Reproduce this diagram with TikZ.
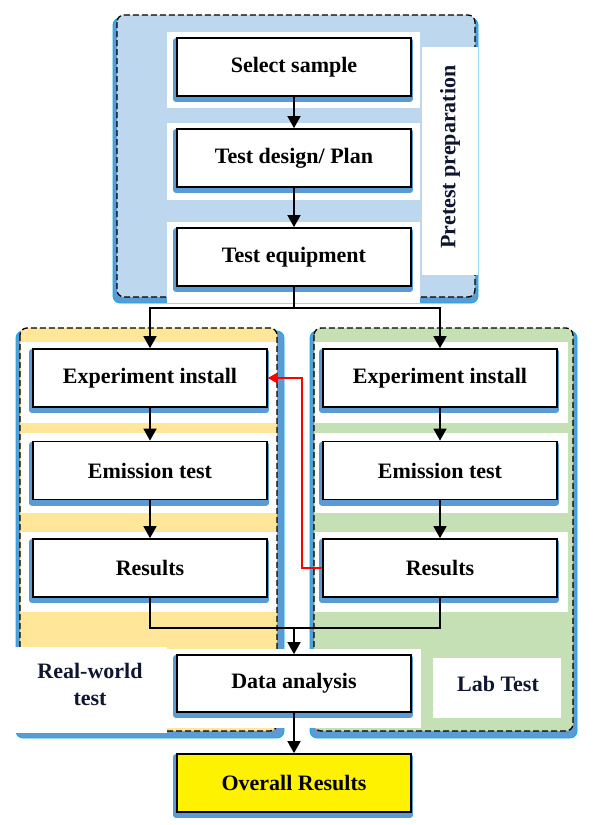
\documentclass[tikz,border=0pt]{standalone}
\usepackage{fontspec}
\setmainfont{Liberation Serif}
\usetikzlibrary{arrows.meta}
\definecolor{prebg}{RGB}{189,215,238}
\definecolor{orabg}{RGB}{255,230,153}
\definecolor{grnbg}{RGB}{197,224,180}
\definecolor{shblue}{RGB}{91,155,213}
\definecolor{shedge}{RGB}{0,176,240}
\definecolor{lbltext}{RGB}{15,22,50}
\begin{document}
\begin{tikzpicture}[x=1pt,y=-1pt,
  box/.style={draw=black, line width=1.7pt, fill=white, minimum width=234pt, minimum height=58pt,
    inner sep=0pt, font=\fontsize{22}{24}\selectfont\bfseries,
    preaction={draw=shblue, fill=shblue, line width=6pt, line join=round, transform canvas={xshift=-1pt, yshift=-3pt}}},
  arr/.style={line width=1.5pt, -{Triangle[width=13pt,length=12pt]}},
  ln/.style={line width=1.5pt},
  redarr/.style={draw=red, line width=1.2pt, -{Triangle[width=11pt,length=10pt]}},
  region/.style={draw=black, line width=1.3pt, dash pattern=on 6pt off 3pt, rounded corners=7pt},
  regshadow/.style={fill=shblue, draw=shedge, line width=0.8pt, rounded corners=7pt},
  whitebg/.style={fill=white, draw=none},
  lbl/.style={font=\fontsize{22}{27}\selectfont\bfseries, text=lbltext, align=center, inner sep=0pt}
]
\useasboundingbox (0,0) rectangle (596,825);
\fill[white] (0,0) rectangle (596,825);

% region shadows
\path[regshadow] (113,18) rectangle (478,303);
\path[regshadow] (16,331) rectangle (284,738);
\path[regshadow] (310,331) rectangle (577,738);

% region fills
\fill[prebg, rounded corners=7pt] (117,15) rectangle (475,297);
\fill[orabg, rounded corners=7pt] (20,328) rectangle (277,731);
\fill[grnbg, rounded corners=7pt] (314,328) rectangle (573,731);

% white strips
\path[whitebg] (167,32) rectangle (420,108);
\path[whitebg] (167,123) rectangle (420,200);
\path[whitebg] (167,222) rectangle (420,302);
\path[whitebg] (21,342) rectangle (277,423);
\path[whitebg] (21,433) rectangle (277,513);
\path[whitebg] (21,532) rectangle (277,612);
\path[whitebg] (315,342) rectangle (568,423);
\path[whitebg] (315,433) rectangle (568,513);
\path[whitebg] (315,532) rectangle (568,612);

% region borders
\draw[region] (117,15) rectangle (475,297);
\draw[region] (20,328) rectangle (277,731);
\draw[region] (314,328) rectangle (573,731);

% label backdrops
\path[whitebg] (167,292) rectangle (420,303);
\path[whitebg] (422,47) rectangle (478,275);
\path[whitebg] (15,647) rectangle (167,733);
\path[whitebg] (167,649) rectangle (421,728);
\path[whitebg] (433,658) rectangle (561,718);

% labels
\node[lbl, rotate=90] (lpre) at (450,157) {Pretest preparation};
\node[lbl] (lreal) at (90,684) {Real-world\\test};
\node[lbl] (llab) at (498,684) {Lab Test};

% boxes
\node[box] (sel) at (294,67) {Select sample};
\node[box] (des) at (294,158) {Test design/ Plan};
\node[box] (equip) at (294,257) {Test equipment};
\node[box] (lexp) at (150,378) {Experiment install};
\node[box] (lemi) at (150,470.5) {Emission test};
\node[box] (lres) at (150,568) {Results};
\node[box] (rexp) at (440,378) {Experiment install};
\node[box] (remi) at (440,470.5) {Emission test};
\node[box] (rres) at (440,568) {Results};
\node[box, minimum height=57pt] (data) at (294,683.5) {Data analysis};
\node[box, fill=yellow] (overall) at (294,783) {Overall Results};

% connectors
\coordinate (split) at (294,308);
\coordinate (join) at (294,628);
\coordinate (redturn) at (302,568);
\draw[arr] (sel) -- (des);
\draw[arr] (des) -- (equip);
\draw[ln] (equip.south) -- (split);
\draw[arr] (split) -| (lexp.north);
\draw[arr] (split) -| (rexp.north);
\draw[arr] (lexp) -- (lemi);
\draw[arr] (lemi) -- (lres);
\draw[arr] (rexp) -- (remi);
\draw[arr] (remi) -- (rres);
\draw[ln] (lres.south) |- (join) -| (rres.south);
\draw[arr] (join) -- (data.north);
\draw[arr] (data) -- (overall);
\draw[redarr] (rres.west) -- (redturn) |- (lexp.east);
\end{tikzpicture}
\end{document}
